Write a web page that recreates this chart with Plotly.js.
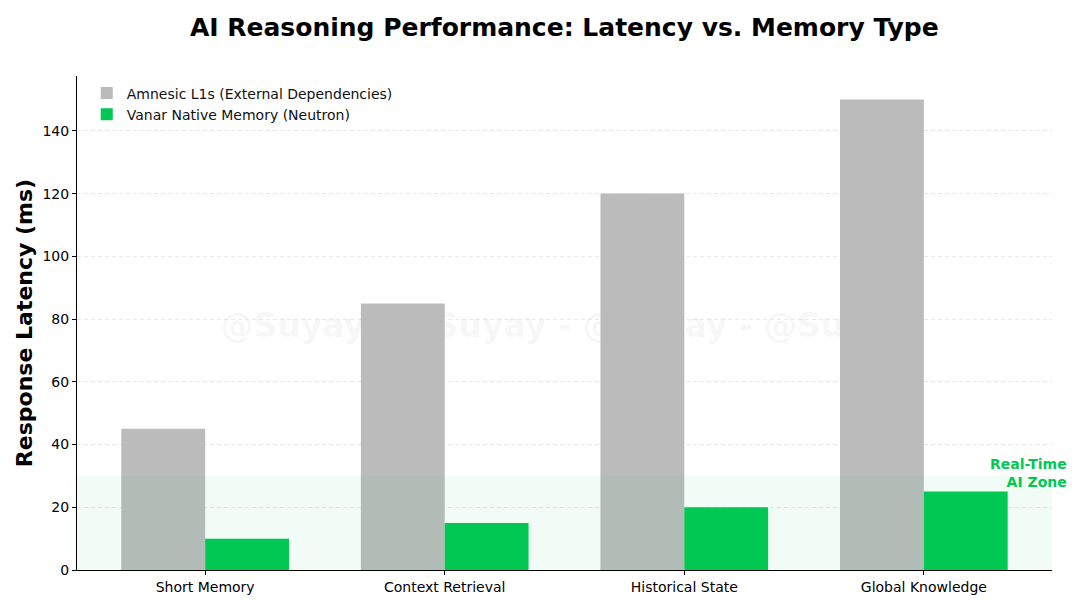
<!DOCTYPE html>
<html>
<head>
<meta charset="utf-8">
<script src="https://cdn.plot.ly/plotly-3.0.1.min.js"></script>
<style>html,body{margin:0;padding:0;background:#fff;}#chart{width:1080px;height:609px;}</style>
</head>
<body>
<div id="chart"></div>
<script>
const categories = ["Short Memory", "Context Retrieval", "Historical State", "Global Knowledge"];
const amnesicValues = [45, 85, 120, 150];
const vanarValues = [10, 15, 20, 25];
const seriesNames = ["Amnesic L1s (External Dependencies)", "Vanar Native Memory (Neutron)"];
const yTicks = [0, 20, 40, 60, 80, 100, 120, 140];
const zoneLimit = 30;
const watermarkText = "@Suyay - @Suyay - @Suyay - @Suyay";

const font = "DejaVu Sans, sans-serif";

const traces = [
  {type: "bar", name: seriesNames[0], x: categories, y: amnesicValues,
   marker: {color: "#BBBBBB", line: {width: 0}}, hoverinfo: "none"},
  {type: "bar", name: seriesNames[1], x: categories, y: vanarValues,
   marker: {color: "#00C853", line: {width: 0}}, hoverinfo: "none"}
];

const layout = {
  width: 1080, height: 609,
  margin: {l: 77, r: 28, t: 76, b: 39},
  paper_bgcolor: "#fff", plot_bgcolor: "#fff",
  font: {family: font, size: 14, color: "#000"},
  title: {text: "<b>AI Reasoning Performance: Latency vs. Memory Type</b>",
          font: {family: font, size: 25, color: "#000"}, x: 0.5225, xanchor: "center", y: 0.955, yanchor: "middle"},
  barmode: "group", bargap: 0.3, bargroupgap: 0,
  showlegend: true,
  legend: {x: 0.01, y: 0.997, xanchor: "left", yanchor: "top", bgcolor: "rgba(255,255,255,0)",
           font: {family: font, size: 14, color: "#111"}, itemwidth: 30, tracegroupgap: 2},
  xaxis: {type: "category", range: [-0.535, 3.535], showgrid: false, zeroline: false,
          showline: true, linecolor: "#000", linewidth: 1, ticks: "outside", ticklen: 4, tickcolor: "#000",
          tickfont: {family: font, size: 14, color: "#000"}, fixedrange: true},
  yaxis: {range: [0, 157.5], tickvals: yTicks, showgrid: true, gridcolor: "#e8e8e8", griddash: "4px,3px", gridwidth: 1,
          zeroline: false, showline: true, linecolor: "#000", linewidth: 1, ticks: "outside", ticklen: 4, tickcolor: "#000",
          tickfont: {family: font, size: 14, color: "#000"},
          title: {text: "<b>Response Latency (ms)</b>", font: {family: font, size: 22, color: "#000"}, standoff: 3}},
  shapes: [
    {type: "rect", xref: "paper", yref: "paper", x0: 0, x1: 1, y0: 0.4, y1: 0.6, layer: "below",
     line: {width: 0}, fillcolor: "rgba(0,0,0,0)",
     label: {text: "<b>" + watermarkText + "</b>", textposition: "middle center",
             font: {family: font, size: 33, color: "rgba(0,0,0,0.055)"}}},
    {type: "rect", xref: "paper", yref: "y", x0: 0, x1: 1, y0: 0, y1: zoneLimit, layer: "above",
     line: {width: 0}, fillcolor: "rgba(0,200,83,0.06)"}
  ],
  annotations: [
    {xref: "paper", yref: "y", x: 1.0175, y: 25, xanchor: "right", yanchor: "bottom", align: "right", showarrow: false,
     text: "<b>Real-Time<br>AI Zone</b>", font: {family: font, size: 14, color: "#00C853"}}
  ]
};

Plotly.newPlot("chart", traces, layout, {displayModeBar: false, staticPlot: true});
</script>
</body>
</html>
